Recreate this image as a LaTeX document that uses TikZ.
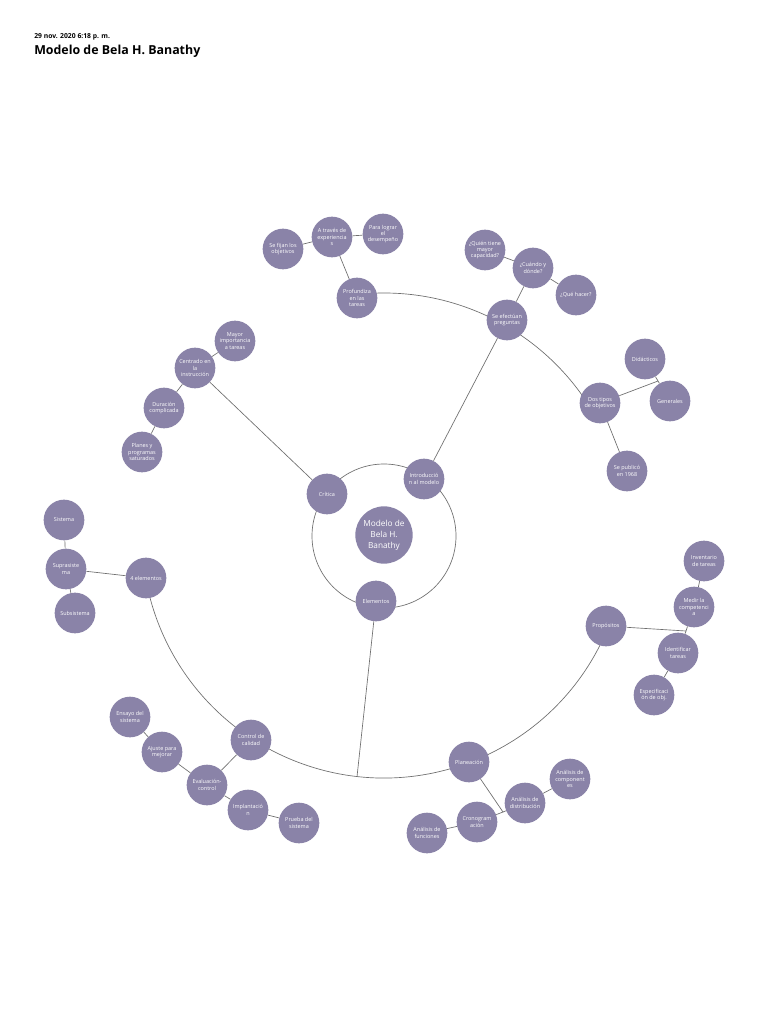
\documentclass[tikz,border=0pt]{standalone}
\usepackage{fontspec}
\setmainfont{Open Sans}
\usetikzlibrary{calc}
\definecolor{lila}{RGB}{138,131,168}
\definecolor{gris}{RGB}{110,110,110}

\begin{document}
\begin{tikzpicture}[x=0.75pt,y=-0.75pt]
\tikzstyle{idea}=[circle,fill=lila,text=white,minimum size=30.5pt,inner sep=0pt,align=center,font=\fontsize{4.1}{4.8}\selectfont]
\tikzstyle{link}=[draw=gris,line width=0.5pt]

\useasboundingbox[fill=white] (0,0) rectangle (768,1024);

\node[anchor=west,inner sep=0pt,font=\fontsize{5.1}{6}\selectfont\bfseries] (fecha) at (34,37) {29 nov. 2020 6:18 p. m.};
\node[anchor=west,inner sep=0pt,font=\fontsize{9.3}{11}\selectfont\bfseries] (titulo) at (34,51) {Modelo de Bela H. Banathy};

% circulos grandes
\coordinate (c) at (384,536);
\draw[link] (c) circle[radius=72];
\draw[link] ($(c)+(-97:243)$) arc[start angle=-97,end angle=-31,radius=243];
\draw[link] ($(c)+(22:242)$) arc[start angle=22,end angle=170,radius=242];
\coordinate (jel) at ($(c)+(96.4:242)$);

% centro
\node[idea,minimum size=43pt,font=\fontsize{6.2}{8.2}\selectfont] (root) at (384,535) {Modelo de\\Bela H.\\Banathy};
\node[idea] (cri) at (327,494) {Crítica};
\node[idea] (intro) at (424,479) {Introducció\\n al modelo};
\node[idea] (ele) at (376,601) {Elementos};

% arriba
\node[idea] (sfo) at (283,249) {Se fijan los\\objetivos};
\node[idea] (ate) at (332,237) {A través de\\experiencia\\s};
\node[idea] (pld) at (383,234) {Para lograr\\el\\desempeño};
\node[idea] (pet) at (357,298) {Profundiza\\en las\\tareas};
\node[idea] (qtm) at (485,250) {¿Quién tiene\\mayor\\capacidad?};
\node[idea] (cyd) at (533,268) {¿Cuándo y\\dónde?};
\node[idea] (qha) at (576,295) {¿Qué hacer?};
\node[idea] (sep) at (507,320) {Se efectúan\\preguntas};
\node[idea] (did) at (645,359) {Didácticos};
\node[idea] (gen) at (670,401) {Generales};
\node[idea] (dto) at (600,403) {Dos tipos\\de objetivos};
\node[idea] (spu) at (627,471) {Se publicó\\en 1968};
\coordinate (jdt) at (658,381);

% izquierda
\node[idea] (mit) at (235,341) {Mayor\\importancia\\a tareas};
\node[idea] (cei) at (195,368) {Centrado en\\la\\instrucción};
\node[idea] (dco) at (164,408) {Duración\\complicada};
\node[idea] (pps) at (142,452) {Planes y\\programas\\saturados};
\node[idea] (sis) at (64,520) {Sistema};
\node[idea] (sup) at (66,569) {Suprasiste\\ma};
\node[idea] (sub) at (75,613) {Subsistema};
\node[idea] (cua) at (146,578) {4 elementos};

% derecha
\node[idea] (inv) at (704,561) {Inventario\\de tareas};
\node[idea] (mec) at (694,607) {Medir la\\competenci\\a};
\node[idea] (ita) at (678,653) {Identificar\\tareas};
\node[idea] (eob) at (654,695) {Especificaci\\ón de obj.};
\node[idea] (pro) at (606,626) {Propósitos};
\coordinate (jpr) at (686,631);

% abajo
\node[idea] (ens) at (130,717) {Ensayo del\\sistema};
\node[idea] (aju) at (162,752) {Ajuste para\\mejorar};
\node[idea] (cdc) at (251,740) {Control de\\calidad};
\node[idea] (evc) at (207,785) {Evaluación-\\control};
\node[idea] (imp) at (248,810) {Implantació\\n};
\node[idea] (pds) at (299,823) {Prueba del\\sistema};
\node[idea] (pla) at (469,762) {Planeación};
\node[idea] (adc) at (570,779) {Análisis de\\component\\es};
\node[idea] (add) at (525,803) {Análisis de\\distribución};
\node[idea] (cro) at (477,822) {Cronogram\\ación};
\node[idea] (adf) at (427,833) {Análisis de\\funciones};
\coordinate (jpl) at (503,812);

\foreach \a/\b in {cri/cei, intro/sep, ele/jel, pet/ate, ate/sfo, ate/pld,
  sep/cyd, cyd/qtm, cyd/qha, dto/jdt, jdt/did, jdt/gen, dto/spu,
  cei/mit, cei/dco, dco/pps, cua/sup, sup/sis, sup/sub,
  pro/jpr, jpr/mec, jpr/ita, mec/inv, ita/eob,
  cdc/evc, evc/aju, aju/ens, evc/imp, imp/pds,
  pla/jpl, jpl/add, jpl/cro, add/adc, cro/adf}
  \draw[link] (\a) -- (\b);

\end{tikzpicture}
\end{document}
